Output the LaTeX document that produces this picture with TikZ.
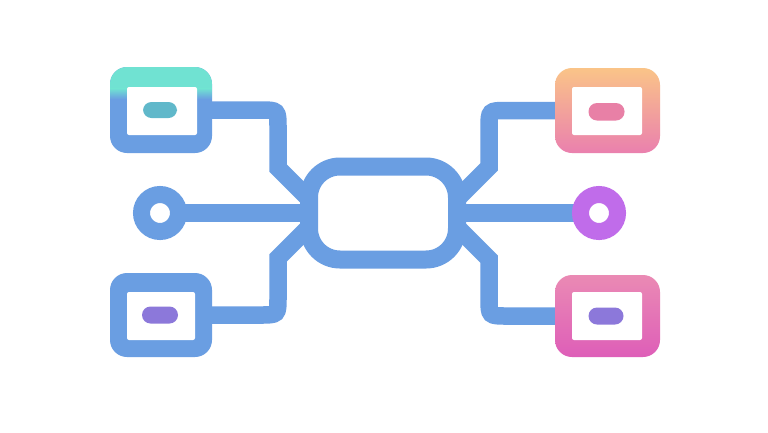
\documentclass[tikz,border=0pt]{standalone}
\usetikzlibrary{calc,backgrounds}
\definecolor{cblue}{RGB}{106,158,226}
\definecolor{cteal}{RGB}{112,226,210}
\definecolor{corange}{RGB}{250,196,136}
\definecolor{cpink}{RGB}{234,128,174}
\definecolor{cpinktop}{RGB}{234,138,180}
\definecolor{cmagenta}{RGB}{222,94,184}
\definecolor{cpurple}{RGB}{192,108,234}
\definecolor{pillteal}{RGB}{96,184,202}
\definecolor{pillpink}{RGB}{232,128,166}
\definecolor{pillpurple}{RGB}{140,120,218}
\begin{document}
\begin{tikzpicture}[x=1pt,y=-1pt,
  geo/.style={rectangle,inner sep=0pt,outer sep=0pt,minimum width=102pt,minimum height=86pt},
  conn/.style={draw=cblue,line width=17.5pt},
  ring/.style={circle,line width=17pt,fill=white,minimum size=37pt,inner sep=0pt,outer sep=0pt},
  outerbox/.style={rounded corners=17pt},
  innerbox/.style={fill=white,rounded corners=2pt},
  pill/.style={rounded corners=8.5pt}]
\useasboundingbox (0,0) rectangle (768,432);

% central box and rings
\node[draw=cblue,line width=18pt,fill=white,rounded corners=31pt,minimum width=148pt,minimum height=93pt,inner sep=0pt,outer sep=0pt] (c) at (383,213) {};
\node[ring,draw=cblue] (lc) at (160,213) {};
\node[ring,draw=cpurple] (rc) at (599,213) {};

% box geometry
\node[geo] (tl) at (161,110) {};
\node[geo,minimum height=84pt] (bl) at (161,315) {};
\node[geo,minimum width=105pt,minimum height=85pt] (tr) at (607.5,110.5) {};
\node[geo,minimum width=105pt,minimum height=82pt] (br) at (607.5,316) {};

% background and connectors
\begin{pgfonlayer}{background}
\fill[white] (0,0) rectangle (768,432);
\draw[conn] (tl.east) -- (260,110) .. controls (278,110) .. (278,128) -- (278,168) -- ($(c.west)+(0,-14)$);
\draw[conn] (bl.east) -- (260,315) .. controls (278,315) .. (278,297) -- (278,258) -- ($(c.west)+(0,14)$);
\draw[conn] (tr.west) -- (507,110.5) .. controls (489,110.5) .. (489,128.5) -- (489,167) -- ($(c.east)+(0,-14)$);
\draw[conn] (br.west) -- (507,316) .. controls (489,316) .. (489,298) -- (489,259) -- ($(c.east)+(0,14)$);
\draw[conn] (lc) -- (c);
\draw[conn] (c) -- (rc);
\end{pgfonlayer}

% top-left box (teal top, blue body)
\fill[cblue,outerbox] (tl.north west) rectangle (tl.south east);
\begin{scope}
\clip[outerbox] (tl.north west) rectangle (tl.south east);
\fill[cteal] (tl.north west) rectangle ($(tl.north east)+(0,22)$);
\shade[top color=cteal,bottom color=cblue] ($(tl.north west)+(0,21.5)$) rectangle ($(tl.north east)+(0,32)$);
\end{scope}
\fill[innerbox] ($(tl.north west)+(17,20)$) rectangle ($(tl.south east)+(-15,-18)$);
\fill[pillteal,pill] ($(tl.center)+(-18,-8)$) rectangle ($(tl.center)+(16,8)$);

% bottom-left box
\fill[cblue,outerbox] (bl.north west) rectangle (bl.south east);
\fill[innerbox] ($(bl.north west)+(17,19)$) rectangle ($(bl.south east)+(-17,-17)$);
\fill[pillpurple,pill] ($(bl.center)+(-19,-8.5)$) rectangle ($(bl.center)+(17,8.5)$);

% top-right box (orange to pink)
\shade[outerbox,top color=corange,bottom color=cpink] (tr.north west) rectangle (tr.south east);
\fill[innerbox] ($(tr.north west)+(17,19)$) rectangle ($(tr.south east)+(-18,-18)$);
\fill[pillpink,pill] ($(tr.center)+(-19,-7.5)$) rectangle ($(tr.center)+(17,10)$);

% bottom-right box (pink to magenta)
\shade[outerbox,top color=cpinktop,bottom color=cmagenta] (br.north west) rectangle (br.south east);
\fill[innerbox] ($(br.north west)+(17,17)$) rectangle ($(br.south east)+(-18,-17)$);
\fill[pillpurple,pill] ($(br.center)+(-19,-8.5)$) rectangle ($(br.center)+(16,8.5)$);
\end{tikzpicture}
\end{document}
